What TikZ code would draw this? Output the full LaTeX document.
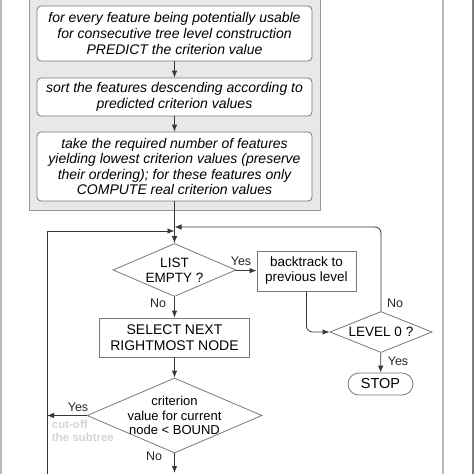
\documentclass[tikz,border=0pt]{standalone}
\usepackage{fontspec}
\setmainfont{Liberation Sans}
\usetikzlibrary{arrows.meta,shapes.geometric}

\definecolor{panelColor}{RGB}{232,232,232}
\definecolor{panelLine}{RGB}{150,150,150}
\definecolor{boxLine}{RGB}{120,120,120}
\definecolor{flowLine}{RGB}{55,55,55}
\definecolor{frameColor}{RGB}{185,185,185}
\definecolor{noteColor}{RGB}{212,212,212}

\begin{document}
\begin{tikzpicture}[x=1pt,y=-1pt,line width=.8pt,
  >={Latex[length=7pt,width=5.5pt]},
  featBox/.style={draw=boxLine,fill=white,rounded corners=4pt,minimum width=275pt,
    align=center,inner sep=2pt,font=\fontsize{14}{15.6}\selectfont\itshape},
  flowBox/.style={draw=boxLine,fill=white,align=center,inner sep=1pt,
    font=\fontsize{13.5}{15}\selectfont},
  decision/.style={draw=boxLine,fill=white,diamond,align=center,inner sep=0pt,
    font=\fontsize{13.5}{15}\selectfont},
  answer/.style={inner sep=0pt,text=black!85,font=\fontsize{12.5}{14}\selectfont},
  flow/.style={draw=flowLine,->}]
  \useasboundingbox (0,0) rectangle (474,474);
  % page frame
  \fill[frameColor] (0,0) rectangle (2,474);
  \draw[frameColor,line width=2pt] (443,0) -- (443,474);
  \draw[gray,line width=1.5pt] (473.2,0) -- (473.2,474);
  % feature ordering panel
  \draw[fill=panelColor,draw=panelLine,line width=1pt] (29,-5) rectangle (320,210);
  \node[featBox,minimum height=55pt] (predictBox) at (174.5,33.5)
    {for every feature being potentially usable\\for consecutive tree level construction\\PREDICT the criterion value};
  \node[featBox,minimum height=38pt] (sortBox) at (174.5,97)
    {sort the features descending according to\\predicted criterion values};
  \node[featBox,minimum height=69pt] (takeBox) at (174.5,166.5)
    {take the required number of features\\yielding lowest criterion values (preserve\\their ordering); for these features only\\COMPUTE real criterion values};
  \draw[flow] (predictBox) -- (sortBox);
  \draw[flow] (sortBox) -- (takeBox);
  % search loop
  \node[decision,minimum width=123pt,minimum height=53pt,aspect=2.32] (listEmpty) at (174.5,270)
    {LIST\\EMPTY ?};
  \node[flowBox,minimum width=99pt,minimum height=40pt] (backtrack) at (306.5,271)
    {backtrack to\\previous level};
  \node[decision,minimum width=102pt,minimum height=41pt,aspect=2.49] (levelZero) at (381,332)
    {LEVEL 0 ?};
  \node[flowBox,rounded corners=11pt,minimum width=65pt,minimum height=22pt,
    font=\fontsize{14.5}{16}\selectfont] (stopNode) at (380.5,384) {STOP};
  \node[flowBox,minimum width=150pt,minimum height=39pt,font=\fontsize{14}{16}\selectfont]
    (selectNode) at (174.5,337.5) {SELECT NEXT\\RIGHTMOST NODE};
  \node[decision,minimum width=175pt,minimum height=75pt,aspect=2.33,inner sep=-1.5pt,
    font=\fontsize{13}{14.5}\selectfont] (boundCheck) at (174.5,415.5)
    {criterion\\value for current\\node < BOUND};
  \coordinate (joinLeft) at (174.5,231);
  \coordinate (joinRight) at (174.5,227);
  \coordinate (loopBottom) at (47,480);
  \coordinate (cutOff) at (47,415.5);
  \coordinate (nextLevel) at (174.5,473);
  \draw[flow] (takeBox) -- (listEmpty);
  \draw[flow] (loopBottom) |- (joinLeft);
  \draw[flow,rounded corners=6pt] (levelZero.north) |- (joinRight);
  \draw[flow] (listEmpty) -- (backtrack);
  \draw[flow,rounded corners=6pt] (backtrack.south) |- (levelZero.west);
  \draw[flow] (levelZero) -- (stopNode);
  \draw[flow] (listEmpty) -- (selectNode);
  \draw[flow] (selectNode) -- (boundCheck);
  \draw[flow] (boundCheck.west) -- (cutOff);
  \draw[flow] (boundCheck.south) -- (nextLevel);
  % answers
  \node[answer] (yesList) at (241,261) {Yes};
  \node[answer] (noList) at (158,303) {No};
  \node[answer] (noLevel) at (395,303) {No};
  \node[answer] (yesLevel) at (398,361) {Yes};
  \node[answer] (yesBound) at (78,407) {Yes};
  \node[answer] (noBound) at (154,456) {No};
  \node[anchor=north west,align=left,inner sep=0pt,text=noteColor,
    font=\fontsize{11.5}{12.5}\selectfont\bfseries] (cutNote) at (51.5,420)
    {cut-off\\the subtree};
\end{tikzpicture}
\end{document}
